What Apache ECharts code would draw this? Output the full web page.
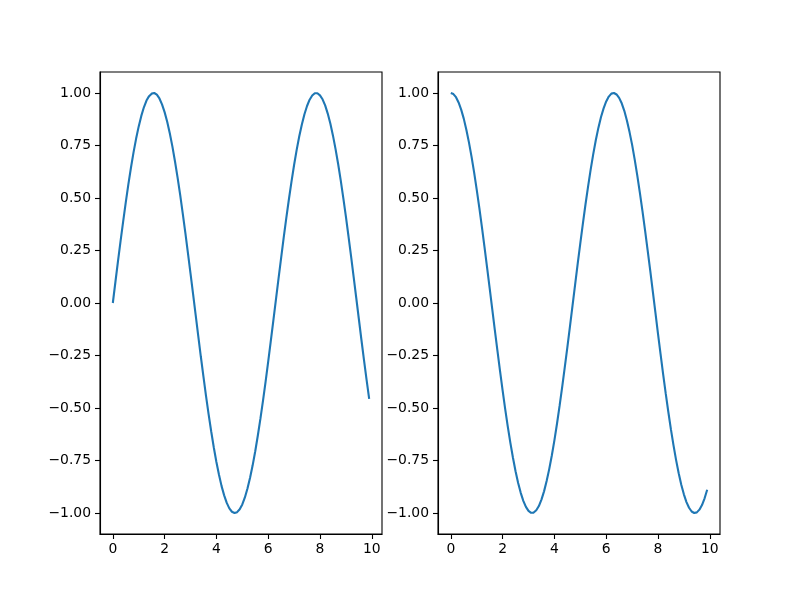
<!DOCTYPE html>
<html>
<head>
<meta charset="utf-8">
<script src="https://cdn.jsdelivr.net/npm/echarts@6/dist/echarts.min.js"></script>
<style>html,body{margin:0;padding:0;background:#fff}#c{width:800px;height:600px}</style>
</head>
<body>
<div id="c"></div>
<script>
const xs = [0.0,0.1,0.2,0.3,0.4,0.5,0.6,0.7,0.8,0.9,1.0,1.1,1.2,1.3,1.4,1.5,1.6,1.7,1.8,1.9,2.0,2.1,2.2,2.3,2.4,2.5,2.6,2.7,2.8,2.9,3.0,3.1,3.2,3.3,3.4,3.5,3.6,3.7,3.8,3.9,4.0,4.1,4.2,4.3,4.4,4.5,4.6,4.7,4.8,4.9,5.0,5.1,5.2,5.3,5.4,5.5,5.6,5.7,5.8,5.9,6.0,6.1,6.2,6.3,6.4,6.5,6.6,6.7,6.8,6.9,7.0,7.1,7.2,7.3,7.4,7.5,7.6,7.7,7.8,7.9,8.0,8.1,8.2,8.3,8.4,8.5,8.6,8.7,8.8,8.9,9.0,9.1,9.2,9.3,9.4,9.5,9.6,9.7,9.8,9.9];
const sinValues = [0.000,0.100,0.199,0.296,0.389,0.479,0.565,0.644,0.717,0.783,0.841,0.891,0.932,0.964,0.985,0.997,1.000,0.992,0.974,0.946,0.909,0.863,0.808,0.746,0.675,0.598,0.516,0.427,0.335,0.239,0.141,0.042,-0.058,-0.158,-0.256,-0.351,-0.443,-0.530,-0.612,-0.688,-0.757,-0.818,-0.872,-0.916,-0.952,-0.978,-0.994,-1.000,-0.996,-0.982,-0.959,-0.926,-0.883,-0.832,-0.773,-0.706,-0.631,-0.551,-0.465,-0.374,-0.279,-0.182,-0.083,0.017,0.117,0.215,0.312,0.405,0.494,0.578,0.657,0.729,0.794,0.850,0.899,0.938,0.968,0.988,0.999,0.999,0.989,0.970,0.941,0.902,0.855,0.798,0.734,0.663,0.585,0.501,0.412,0.319,0.223,0.124,0.025,-0.075,-0.175,-0.272,-0.366,-0.457];
const cosValues = [1.000,0.995,0.980,0.955,0.921,0.878,0.825,0.765,0.697,0.622,0.540,0.454,0.362,0.267,0.170,0.071,-0.029,-0.129,-0.227,-0.323,-0.416,-0.505,-0.589,-0.666,-0.737,-0.801,-0.857,-0.904,-0.942,-0.971,-0.990,-0.999,-0.998,-0.987,-0.967,-0.936,-0.897,-0.848,-0.791,-0.726,-0.654,-0.575,-0.490,-0.401,-0.307,-0.211,-0.112,-0.012,0.087,0.187,0.284,0.378,0.469,0.554,0.635,0.709,0.776,0.835,0.886,0.927,0.960,0.983,0.997,1.000,0.993,0.977,0.951,0.915,0.869,0.815,0.754,0.684,0.608,0.526,0.439,0.347,0.252,0.155,0.055,-0.045,-0.146,-0.244,-0.340,-0.432,-0.519,-0.602,-0.678,-0.748,-0.811,-0.865,-0.911,-0.948,-0.975,-0.993,-1.000,-0.997,-0.984,-0.962,-0.930,-0.889];
const xTicks = [0, 2, 4, 6, 8, 10];
const yTicks = [-1.0, -0.75, -0.5, -0.25, 0.0, 0.25, 0.5, 0.75, 1.0];

const font = 'DejaVu Sans';
const fmtY = v => (v < 0 ? '\u2212' : '') + Math.abs(v).toFixed(2);

function xAxis(i) {
  return {
    type: 'value', gridIndex: i, min: -0.495, max: 10.395,
    splitLine: {show: false},
    axisLine: {show: true, onZero: false, lineStyle: {color: '#000', width: 1.1}},
    axisTick: {show: true, customValues: xTicks, length: 5, lineStyle: {color: '#000', width: 1.1}},
    axisLabel: {show: true, customValues: xTicks, formatter: v => String(v), margin: 8,
      color: '#000', fontFamily: font, fontSize: 13.9}
  };
}
function yAxis(i) {
  return {
    type: 'value', gridIndex: i, min: -1.1, max: 1.1,
    splitLine: {show: false},
    axisLine: {show: true, onZero: false, lineStyle: {color: '#000', width: 1.1}},
    axisTick: {show: true, customValues: yTicks, length: 5, lineStyle: {color: '#000', width: 1.1}},
    axisLabel: {show: true, customValues: yTicks, formatter: fmtY, margin: 9,
      color: '#000', fontFamily: font, fontSize: 13.9}
  };
}
function pairs(ys) { return xs.map((x, k) => [x, ys[k]]); }

const chart = echarts.init(document.getElementById('c'), null, {renderer: 'canvas'});
chart.setOption({
  animation: false,
  backgroundColor: '#fff',
  grid: [
    {left: 100, top: 72, width: 282, height: 462, show: true, borderColor: '#000', borderWidth: 1.1, containLabel: false},
    {left: 438, top: 72, width: 282, height: 462, show: true, borderColor: '#000', borderWidth: 1.1, containLabel: false}
  ],
  xAxis: [xAxis(0), xAxis(1)],
  yAxis: [yAxis(0), yAxis(1)],
  series: [
    {type: 'line', xAxisIndex: 0, yAxisIndex: 0, data: pairs(sinValues), showSymbol: false, symbol: 'none',
     lineStyle: {color: '#1f77b4', width: 2.1}, itemStyle: {color: '#1f77b4'}},
    {type: 'line', xAxisIndex: 1, yAxisIndex: 1, data: pairs(cosValues), showSymbol: false, symbol: 'none',
     lineStyle: {color: '#1f77b4', width: 2.1}, itemStyle: {color: '#1f77b4'}}
  ]
});
</script>
</body>
</html>
